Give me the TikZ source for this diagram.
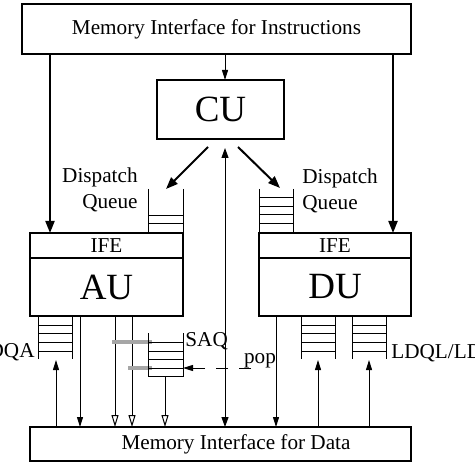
\documentclass[tikz,border=0pt]{standalone}
\usepackage{fontspec}
\setmainfont{Liberation Serif}
\usetikzlibrary{arrows.meta}

\tikzstyle{box}=[draw,line width=0.6pt,inner sep=0pt,outer sep=0pt,font=\fontsize{10.6}{13}\selectfont]
\tikzstyle{unit}=[box,font=\fontsize{18.5}{22}\selectfont]
\tikzstyle{txt}=[inner sep=0pt,font=\fontsize{10.6}{13}\selectfont]
\tikzstyle{bus}=[draw,line width=1pt,-{Triangle[length=6pt,width=4.5pt]}]
\tikzstyle{wire}=[draw,line width=0.5pt,-{Triangle[length=5pt,width=3pt]}]
\tikzstyle{open wire}=[draw,line width=0.5pt,-{Triangle[open,length=6pt,width=3.5pt]}]
\tikzstyle{queue}=[draw,line width=0.5pt]
\tikzstyle{hold}=[draw,line width=1.8pt,black!35]

\begin{document}
\begin{tikzpicture}[x=0.5pt,y=-0.5pt]
     \useasboundingbox (0,0) rectangle (474,474);
     % memories and units
     \node[box,minimum width=194.5pt,minimum height=25pt] (imem) at (216.5,29) {Memory Interface for Instructions};
     \node[unit,minimum width=63.5pt,minimum height=29.5pt] (cu) at (220.5,109.5) {CU};
     \node[box,minimum width=76.5pt,minimum height=12.5pt] (auife) at (106.5,245.5) {IFE};
     \node[unit,minimum width=76.5pt,minimum height=29pt] (au) at (106.5,287) {AU};
     \node[box,minimum width=76pt,minimum height=12.5pt] (duife) at (335,245.5) {IFE};
     \node[unit,minimum width=76pt,minimum height=29pt] (du) at (335,287) {DU};
     \node[box,minimum width=190.5pt,minimum height=17pt] (dmem) at (220.5,444) {};
     \node[txt] (dmemtext) at (236,444) {Memory Interface for Data};

     % dispatch queues
     \draw[queue] (148,189) -- (148,233) (183,189) -- (183,233);
     \foreach \y in {216,224}
     \draw[queue] (148,\y) -- (183,\y);
     \draw[queue] (259,189) -- (259,233) (293,189) -- (293,233);
     \foreach \y in {198,207,215,224}
     \draw[queue] (259,\y) -- (293,\y);
     \coordinate (qa) at (166,189);
     \coordinate (qd) at (280,188);
     \node[txt,anchor=east,align=right] (dispa) at (138,190) {Dispatch\\Queue};
     \node[txt,anchor=west,align=left] (dispd) at (302,191) {Dispatch\\Queue};

     % instruction side
     \path[bus] (imem.south -| 50,0) -- (auife.north -| 50,0);
     \path[bus] (imem.south -| 393,0) -- (duife.north -| 393,0);
     \path[wire] (imem.south -| 225,0) -- (cu.north -| 225,0);
     \path[bus] (cu.south) ++(-12.5,8) -- (qa);
     \path[bus] (cu.south) ++(17.5,8) -- (qd);
     \path[wire,{Triangle[length=5pt,width=3.5pt]}-{Triangle[length=5pt,width=3.5pt]},shorten >=4.5pt] (dmem.north -| 225,0) -- (cu.south -| 225,0);

     % load queues
     \foreach \xa/\xb in {38/72, 301/335, 352/386}{
       \draw[queue] (\xa,316) -- (\xa,359) (\xb,316) -- (\xb,359);
       \foreach \y in {325,333,342,351}
       \draw[queue] (\xa,\y) -- (\xb,\y);
     }
     \coordinate (ldqa) at (56,360);
     \coordinate (ldq1) at (318,360);
     \coordinate (ldq2) at (369,360);
     \foreach \q in {ldqa,ldq1,ldq2}
     \path[wire] (dmem.north -| \q) -- (\q);

     % address and data wires
     \path[wire] (au.south -| 80,0) -- (dmem.north -| 80,0);
     \path[wire] (du.south -| 276,0) -- (dmem.north -| 276,0);
     \foreach \x in {115,132}
     \path[open wire] (au.south -| \x,0) -- (dmem.north -| \x,0);
     \draw[hold] (112,342) -- (152,342);
     \draw[hold] (128,368) -- (152,368);

     % store address queue
     \draw[queue] (148,333) -- (148,376) -- (183,376) -- (183,333);
     \foreach \y in {342,351,359,368}
     \draw[queue] (148,\y) -- (183,\y);
     \coordinate (saq) at (165,376);
     \coordinate (saqin) at (183,368);
     \coordinate (pop) at (251,368);
     \path[open wire] (saq) -- (dmem.north -| saq);
     \path[wire,dash pattern=on 6pt off 5.5pt] (pop) -- (saqin);

     % labels
     \node[txt,anchor=base west] (saqlabel) at (185,346) {SAQ};
     \node[txt,anchor=base] (poplabel) at (260,363) {pop};
     \node[txt,anchor=base east] (ldqalabel) at (35,357) {DQA};
     \node[txt,anchor=base west] (ldqlabel) at (391,358) {LDQL/LD};
\end{tikzpicture}
\end{document}
